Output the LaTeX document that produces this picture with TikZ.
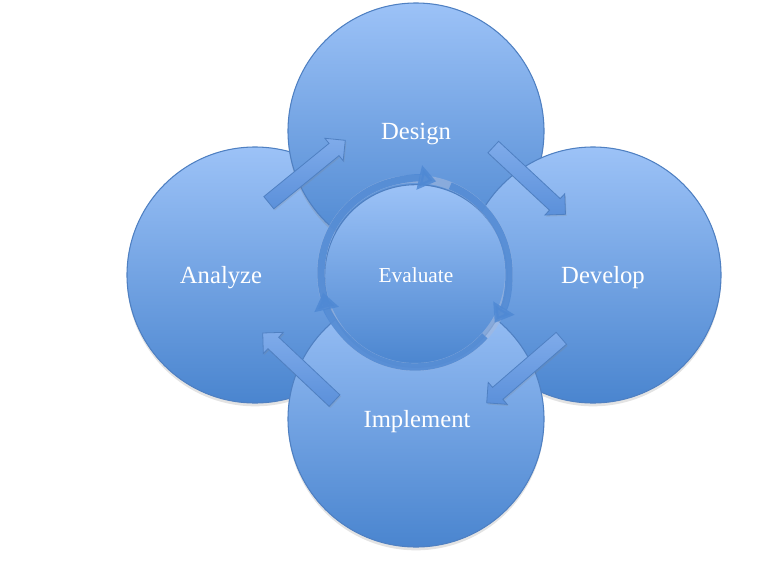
\documentclass[tikz,border=0pt]{standalone}
\usepackage{fontspec}
\setmainfont{Liberation Serif}
\usepackage{tikz}
\usetikzlibrary{arrows.meta, shapes.arrows, shadows}
\definecolor{petaltop}{HTML}{9CC2F7}
\definecolor{petalbot}{HTML}{4A85CF}
\definecolor{petaledge}{HTML}{4F80C2}
\definecolor{arrowlight}{HTML}{7FABEA}
\definecolor{arrowdark}{HTML}{5B90DA}
\definecolor{ringband}{HTML}{A3B9DE}
\definecolor{ringfg}{HTML}{4F89D4}

\tikzset{
  petal/.style={circle, minimum size=192pt, inner sep=0pt, draw=petaledge,
    line width=0.8pt, top color=petaltop, bottom color=petalbot,
    drop shadow={opacity=0.22, shadow xshift=0pt, shadow yshift=-2.5pt}},
  petaltext/.style={text=white, font=\fontsize{18.5}{22}\selectfont, anchor=base},
  blockarrow/.style={single arrow, draw=petaledge, line width=0.6pt,
    top color=arrowlight, bottom color=arrowdark, minimum height=74pt,
    inner xsep=0pt, inner ysep=5.6pt, single arrow head extend=5pt,
    sloped, allow upside down,
    drop shadow={opacity=0.2, shadow xshift=0.8pt, shadow yshift=-1.2pt}}
}

\begin{document}
\begin{tikzpicture}[x=0.75pt, y=0.75pt]
  \useasboundingbox (0,0) rectangle (768,562);

  % --- the four phases ---
  \node[petal] (analyze) at (255,287) {};
  \node[petal] (design) at (416,431) {};
  \node[petal] (develop) at (593,287) {};
  \node[petal] (implement) at (416,143) {};

  \node[petaltext] (analyzetxt) at ([shift={(-34,-8)}]analyze.center) {Analyze};
  \node[petaltext] (designtxt) at ([shift={(0,-8)}]design.center) {Design};
  \node[petaltext] (developtxt) at ([shift={(10,-8)}]develop.center) {Develop};
  \node[petaltext] (implementtxt) at ([shift={(1,-8)}]implement.center) {Implement};

  % --- block arrows between phases ---
  \foreach \tx/\ty/\hx/\hy [count=\i] in {266/357/342/419, 490/418/563/350,
                                         564/226/490/162, 336/160/267/225} {
    \path (\tx,\ty) -- node[blockarrow] (step\i) {} (\hx,\hy);
  }

  % --- evaluate in the middle ---
  \node[circle, minimum size=137pt, inner sep=0pt, draw=petaledge, line width=0.8pt,
        top color=petaltop, bottom color=petalbot] (evaluate) at (416,286) {};
  \node[text=white, font=\fontsize{16}{19}\selectfont, anchor=base] (evaluatetxt)
    at ([shift={(0,-6)}]evaluate.center) {Evaluate};

  % --- circular arrows round evaluate ---
  \coordinate (ringc) at (415,289);
  \draw[ringband, line width=6pt, opacity=0.6] (ringc) circle[radius=94];
  \foreach \s/\e in {200/77, 68/-32, -42/-168} {
    \draw[ringfg, line width=5.5pt, opacity=0.85,
          -{Triangle[width=18pt, length=13pt]}]
      (ringc) ++(\s:94) arc[start angle=\s, end angle=\e, radius=94];
  }
\end{tikzpicture}
\end{document}
